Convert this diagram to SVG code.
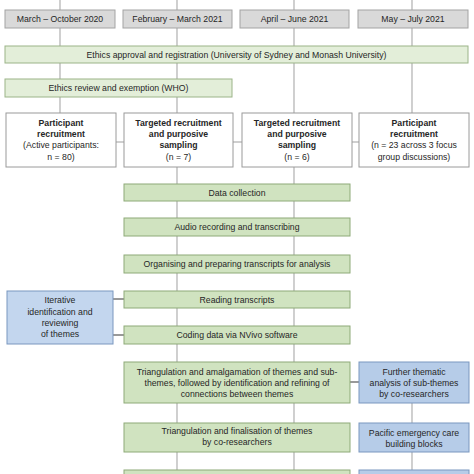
<svg xmlns="http://www.w3.org/2000/svg" width="474" height="474" viewBox="0 0 474 474">
<style>
text{font-family:"Liberation Sans",Arial,sans-serif;font-size:8.7px;fill:#262626;text-anchor:middle}
.b{font-weight:bold}
.grey{fill:#d9d9d9;stroke:#a3a3a3;stroke-width:1}
.lg{fill:#e3eed9;stroke:#9bb488;stroke-width:1}
.g{fill:#d0e3c0;stroke:#8eaa79;stroke-width:1}
.w{fill:#ffffff;stroke:#9a9a9a;stroke-width:1}
.bl{fill:#b6cce8;stroke:#7a97bf;stroke-width:1}
.bl2{fill:#c3d6ee;stroke:#7a97bf;stroke-width:1}
.tl{stroke:#b0b0b0;stroke-width:1.2;fill:none}
.cn{stroke:#555555;stroke-width:1.2;fill:none}
</style>
<rect width="474" height="474" fill="#ffffff"/>
<g id="connectors">
<line class="tl" x1="60" y1="0" x2="60" y2="113"/>
<line class="tl" x1="177" y1="0" x2="177" y2="474"/>
<line class="tl" x1="294" y1="0" x2="294" y2="474"/>
<line class="tl" x1="412" y1="0" x2="412" y2="113"/>
<line class="tl" x1="116" y1="142" x2="124" y2="142"/>
<line class="tl" x1="233" y1="142" x2="242" y2="142"/>
<line class="tl" x1="352" y1="142" x2="359" y2="142"/>
<line class="cn" x1="113" y1="299" x2="124" y2="299"/>
<line class="cn" x1="113" y1="335" x2="124" y2="335"/>
<line class="cn" x1="350" y1="382" x2="359" y2="382"/>
<line class="tl" x1="412" y1="403" x2="412" y2="423"/>
<line class="tl" x1="412" y1="452" x2="412" y2="470"/>
</g>
<g id="t1"><rect class="grey" x="5" y="10" width="110" height="18"/><text x="60" y="22">March – October 2020</text></g>
<g id="t2"><rect class="grey" x="123" y="10" width="109" height="18"/><text x="177.5" y="22">February – March 2021</text></g>
<g id="t3"><rect class="grey" x="240" y="10" width="109" height="18"/><text x="294.5" y="22">April – June 2021</text></g>
<g id="t4"><rect class="grey" x="358" y="10" width="110" height="18"/><text x="413" y="22">May – July 2021</text></g>
<g id="ethics1"><rect class="lg" x="5" y="46" width="463" height="17"/><text x="236.5" y="57.5">Ethics approval and registration (University of Sydney and Monash University)</text></g>
<g id="ethics2"><rect class="lg" x="5" y="79" width="227" height="18"/><text x="118.5" y="91">Ethics review and exemption (WHO)</text></g>
<g id="p1"><rect class="w" x="6" y="113" width="110" height="54"/>
<text class="b" x="61" y="125.7">Participant</text><text class="b" x="61" y="137">recruitment</text><text x="61" y="148.3">(Active participants:</text><text x="61" y="159.7">n = 80)</text></g>
<g id="p2"><rect class="w" x="124" y="113" width="109" height="54"/>
<text class="b" x="178.5" y="125.7">Targeted recruitment</text><text class="b" x="178.5" y="137">and purposive</text><text class="b" x="178.5" y="148.3">sampling</text><text x="178.5" y="159.7">(n = 7)</text></g>
<g id="p3"><rect class="w" x="242" y="113" width="110" height="54"/>
<text class="b" x="297" y="125.7">Targeted recruitment</text><text class="b" x="297" y="137">and purposive</text><text class="b" x="297" y="148.3">sampling</text><text x="297" y="159.7">(n = 6)</text></g>
<g id="p4"><rect class="w" x="359" y="113" width="110" height="54"/>
<text class="b" x="414" y="125.7">Participant</text><text class="b" x="414" y="137">recruitment</text><text x="414" y="148.3">(n = 23 across 3 focus</text><text x="414" y="159.7">group discussions)</text></g>
<g id="s1"><rect class="g" x="124" y="184" width="226" height="17"/><text x="237" y="195.5">Data collection</text></g>
<g id="s2"><rect class="g" x="124" y="218" width="226" height="18"/><text x="237" y="230">Audio recording and transcribing</text></g>
<g id="s3"><rect class="g" x="124" y="255" width="226" height="18"/><text x="237" y="267">Organising and preparing transcripts for analysis</text></g>
<g id="s4"><rect class="g" x="124" y="291" width="226" height="17"/><text x="237" y="302.5">Reading transcripts</text></g>
<g id="s5"><rect class="g" x="124" y="326" width="226" height="18"/><text x="237" y="338">Coding data via NVivo software</text></g>
<g id="iter"><rect class="bl2" x="7" y="291" width="106" height="53"/>
<text x="60" y="303">Iterative</text><text x="60" y="314.5">identification and</text><text x="60" y="325.5">reviewing</text><text x="60" y="336.5">of themes</text></g>
<g id="s6"><rect class="g" x="124" y="362" width="226" height="41"/>
<text x="237" y="374.5">Triangulation and amalgamation of themes and sub-</text><text x="237" y="385.5">themes, followed by identification and refining of</text><text x="237" y="397">connections between themes</text></g>
<g id="further"><rect class="bl" x="359" y="362" width="110" height="41"/>
<text x="414" y="374.5">Further thematic</text><text x="414" y="385.5">analysis of sub-themes</text><text x="414" y="397">by co-researchers</text></g>
<g id="s7"><rect class="g" x="124" y="423" width="226" height="29"/>
<text x="237" y="434">Triangulation and finalisation of themes</text><text x="237" y="445">by co-researchers</text></g>
<g id="pacific"><rect class="bl" x="359" y="423" width="110" height="29"/>
<text x="414" y="436">Pacific emergency care</text><text x="414" y="446.5">building blocks</text></g>
<g id="s8"><rect class="g" x="124" y="470" width="226" height="10"/></g>
<g id="b8"><rect class="bl" x="359" y="470" width="110" height="10"/></g>
</svg>
